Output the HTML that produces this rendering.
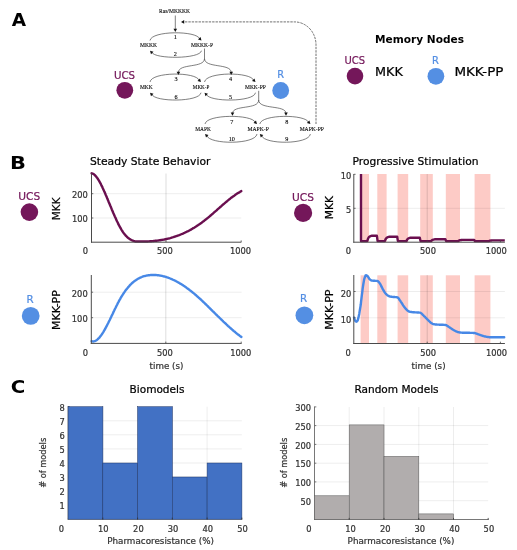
<!DOCTYPE html>
<html><head><meta charset="utf-8"><title>Figure</title>
<style>html,body{margin:0;padding:0;background:#fff;}svg{display:block;}</style>
</head><body>
<svg width="517" height="550" viewBox="0 0 517 550">
<text transform="translate(19,26.1) scale(1.0,1)" x="0" y="0" font-family="'DejaVu Sans','Liberation Sans',sans-serif" font-size="18.5" font-weight="bold" fill="#000" text-anchor="middle">A</text>
<text transform="translate(18,169.0) scale(1.13,1)" x="0" y="0" font-family="'DejaVu Sans','Liberation Sans',sans-serif" font-size="18.5" font-weight="bold" fill="#000" text-anchor="middle">B</text>
<text transform="translate(18.1,393.1) scale(1.07,1)" x="0" y="0" font-family="'DejaVu Sans','Liberation Sans',sans-serif" font-size="18.5" font-weight="bold" fill="#000" text-anchor="middle">C</text>
<text x="174.5" y="13.2" font-family="'Liberation Serif','DejaVu Serif',serif" font-size="6.2" font-weight="normal" fill="#000" text-anchor="middle" textLength="31.0" lengthAdjust="spacingAndGlyphs" stroke="#000" stroke-width="0.1">Ras/MKKKK</text>
<path d="M175.3,15.5 L175.3,30" fill="none" stroke="#3a3a3a" stroke-width="0.65"/>
<polygon points="175.3,32.0 173.5,28.8 177.1,28.8" fill="#111"/>
<path d="M150.0,40.5 C151.5,30.5 197.0,30.5 199.7,38.9" fill="none" stroke="#3a3a3a" stroke-width="0.65"/>
<polygon points="201.5,40.5 198.0,39.5 200.5,37.0" fill="#111"/>
<path d="M201.5,50.7 C200.0,59.2 154.5,59.2 151.8,52.3" fill="none" stroke="#3a3a3a" stroke-width="0.65"/>
<polygon points="150.0,50.7 153.5,51.7 151.0,54.2" fill="#111"/>
<text x="175.2" y="38.7" font-family="'Liberation Serif','DejaVu Serif',serif" font-size="6.2" font-weight="normal" fill="#000" text-anchor="middle" stroke="#000" stroke-width="0.1">1</text>
<text x="175.2" y="56.1" font-family="'Liberation Serif','DejaVu Serif',serif" font-size="6.2" font-weight="normal" fill="#000" text-anchor="middle" stroke="#000" stroke-width="0.1">2</text>
<text x="148.5" y="47.0" font-family="'Liberation Serif','DejaVu Serif',serif" font-size="6.2" font-weight="normal" fill="#000" text-anchor="middle" textLength="17.0" lengthAdjust="spacingAndGlyphs" stroke="#000" stroke-width="0.1">MKKK</text>
<text x="202.0" y="47.0" font-family="'Liberation Serif','DejaVu Serif',serif" font-size="6.2" font-weight="normal" fill="#000" text-anchor="middle" textLength="22.0" lengthAdjust="spacingAndGlyphs" stroke="#000" stroke-width="0.1">MKKK-P</text>
<path d="M204.5,48.5 L204.5,58.5 C204.5,68.5 178.4,63 178.4,72.5" fill="none" stroke="#3a3a3a" stroke-width="0.65"/>
<path d="M204.5,58.5 C204.5,68.5 231.2,63 231.2,72.5" fill="none" stroke="#3a3a3a" stroke-width="0.65"/>
<polygon points="178.4,74.9 176.6,71.7 180.2,71.7" fill="#111"/>
<polygon points="231.2,74.9 229.4,71.7 233.0,71.7" fill="#111"/>
<path d="M150.0,82.0 C151.5,71.7 196.5,71.7 199.2,80.4" fill="none" stroke="#3a3a3a" stroke-width="0.65"/>
<polygon points="201.0,82.0 197.5,81.0 200.0,78.5" fill="#111"/>
<path d="M201.0,92.7 C199.5,102.2 154.5,102.2 151.8,94.3" fill="none" stroke="#3a3a3a" stroke-width="0.65"/>
<polygon points="150.0,92.7 153.5,93.7 151.0,96.2" fill="#111"/>
<text x="176.0" y="81.0" font-family="'Liberation Serif','DejaVu Serif',serif" font-size="6.2" font-weight="normal" fill="#000" text-anchor="middle" stroke="#000" stroke-width="0.1">3</text>
<text x="176.0" y="98.6" font-family="'Liberation Serif','DejaVu Serif',serif" font-size="6.2" font-weight="normal" fill="#000" text-anchor="middle" stroke="#000" stroke-width="0.1">6</text>
<path d="M204.5,82.0 C206.0,71.7 251.0,71.7 253.7,80.4" fill="none" stroke="#3a3a3a" stroke-width="0.65"/>
<polygon points="255.5,82.0 252.0,81.0 254.5,78.5" fill="#111"/>
<path d="M255.5,92.7 C254.0,102.2 209.0,102.2 206.3,94.3" fill="none" stroke="#3a3a3a" stroke-width="0.65"/>
<polygon points="204.5,92.7 208.0,93.7 205.5,96.2" fill="#111"/>
<text x="230.5" y="81.0" font-family="'Liberation Serif','DejaVu Serif',serif" font-size="6.2" font-weight="normal" fill="#000" text-anchor="middle" stroke="#000" stroke-width="0.1">4</text>
<text x="230.5" y="98.6" font-family="'Liberation Serif','DejaVu Serif',serif" font-size="6.2" font-weight="normal" fill="#000" text-anchor="middle" stroke="#000" stroke-width="0.1">5</text>
<text x="146.4" y="89.0" font-family="'Liberation Serif','DejaVu Serif',serif" font-size="6.2" font-weight="normal" fill="#000" text-anchor="middle" textLength="12.8" lengthAdjust="spacingAndGlyphs" stroke="#000" stroke-width="0.1">MKK</text>
<text x="201.1" y="89.0" font-family="'Liberation Serif','DejaVu Serif',serif" font-size="6.2" font-weight="normal" fill="#000" text-anchor="middle" textLength="16.5" lengthAdjust="spacingAndGlyphs" stroke="#000" stroke-width="0.1">MKK-P</text>
<text x="255.4" y="89.0" font-family="'Liberation Serif','DejaVu Serif',serif" font-size="6.2" font-weight="normal" fill="#000" text-anchor="middle" textLength="20.8" lengthAdjust="spacingAndGlyphs" stroke="#000" stroke-width="0.1">MKK-PP</text>
<path d="M258.7,90.8 L258.7,100 C258.7,110 232.5,104.5 232.5,113.5" fill="none" stroke="#3a3a3a" stroke-width="0.65"/>
<path d="M258.7,100 C258.7,110 286,104.5 286,113.5" fill="none" stroke="#3a3a3a" stroke-width="0.65"/>
<polygon points="232.5,115.7 230.7,112.5 234.3,112.5" fill="#111"/>
<polygon points="286.0,115.7 284.2,112.5 287.8,112.5" fill="#111"/>
<path d="M205.0,124.0 C206.5,114.1 252.5,114.1 255.2,122.4" fill="none" stroke="#3a3a3a" stroke-width="0.65"/>
<polygon points="257.0,124.0 253.5,123.0 256.0,120.5" fill="#111"/>
<path d="M257.0,134.0 C255.5,144.7 209.5,144.7 206.8,135.6" fill="none" stroke="#3a3a3a" stroke-width="0.65"/>
<polygon points="205.0,134.0 208.5,135.0 206.0,137.5" fill="#111"/>
<text x="231.8" y="123.8" font-family="'Liberation Serif','DejaVu Serif',serif" font-size="6.2" font-weight="normal" fill="#000" text-anchor="middle" stroke="#000" stroke-width="0.1">7</text>
<text x="231.8" y="141.3" font-family="'Liberation Serif','DejaVu Serif',serif" font-size="6.2" font-weight="normal" fill="#000" text-anchor="middle" stroke="#000" stroke-width="0.1">10</text>
<path d="M259.8,124.0 C261.3,114.1 305.9,114.1 308.6,122.4" fill="none" stroke="#3a3a3a" stroke-width="0.65"/>
<polygon points="310.4,124.0 306.9,123.0 309.4,120.5" fill="#111"/>
<path d="M310.4,134.0 C308.9,144.7 264.3,144.7 261.6,135.6" fill="none" stroke="#3a3a3a" stroke-width="0.65"/>
<polygon points="259.8,134.0 263.3,135.0 260.8,137.5" fill="#111"/>
<text x="286.7" y="123.8" font-family="'Liberation Serif','DejaVu Serif',serif" font-size="6.2" font-weight="normal" fill="#000" text-anchor="middle" stroke="#000" stroke-width="0.1">8</text>
<text x="286.7" y="141.3" font-family="'Liberation Serif','DejaVu Serif',serif" font-size="6.2" font-weight="normal" fill="#000" text-anchor="middle" stroke="#000" stroke-width="0.1">9</text>
<text x="203.0" y="131.0" font-family="'Liberation Serif','DejaVu Serif',serif" font-size="6.2" font-weight="normal" fill="#000" text-anchor="middle" textLength="15.7" lengthAdjust="spacingAndGlyphs" stroke="#000" stroke-width="0.1">MAPK</text>
<text x="258.2" y="131.0" font-family="'Liberation Serif','DejaVu Serif',serif" font-size="6.2" font-weight="normal" fill="#000" text-anchor="middle" textLength="21.5" lengthAdjust="spacingAndGlyphs" stroke="#000" stroke-width="0.1">MAPK-P</text>
<text x="311.8" y="131.0" font-family="'Liberation Serif','DejaVu Serif',serif" font-size="6.2" font-weight="normal" fill="#000" text-anchor="middle" textLength="24.3" lengthAdjust="spacingAndGlyphs" stroke="#000" stroke-width="0.1">MAPK-PP</text>
<path d="M316,124 L316,44.9 A21.5,23 0 0 0 294.5,21.9 L183.5,21.9" fill="none" stroke="#404040" stroke-width="0.75" stroke-dasharray="2.4,1"/>
<polygon points="181.0,21.9 184.2,20.1 184.2,23.7" fill="#111"/>
<text x="124.5" y="78.8" font-family="'DejaVu Sans','Liberation Sans',sans-serif" font-size="10.4" font-weight="normal" fill="#74175a" text-anchor="middle" textLength="21.2" lengthAdjust="spacingAndGlyphs" stroke="#74175a" stroke-width="0.22">UCS</text>
<circle cx="124.8" cy="90.3" r="8.4" fill="#74175a"/>
<text x="280.6" y="78.3" font-family="'DejaVu Sans','Liberation Sans',sans-serif" font-size="9.8" font-weight="normal" fill="#548fe3" text-anchor="middle" stroke="#548fe3" stroke-width="0.22">R</text>
<circle cx="280.7" cy="90.5" r="8.4" fill="#548fe3"/>
<text x="419.5" y="42.7" font-family="'DejaVu Sans','Liberation Sans',sans-serif" font-size="10.6" font-weight="bold" fill="#000" text-anchor="middle" textLength="89.0" lengthAdjust="spacingAndGlyphs">Memory Nodes</text>
<text x="354.8" y="64.4" font-family="'DejaVu Sans','Liberation Sans',sans-serif" font-size="10.2" font-weight="normal" fill="#74175a" text-anchor="middle" textLength="20.6" lengthAdjust="spacingAndGlyphs" stroke="#74175a" stroke-width="0.22">UCS</text>
<circle cx="355.0" cy="76.1" r="8.3" fill="#74175a"/>
<text x="389.0" y="75.5" font-family="'DejaVu Sans','Liberation Sans',sans-serif" font-size="12.9" font-weight="normal" fill="#000" text-anchor="middle" textLength="27.8" lengthAdjust="spacingAndGlyphs" stroke="#000" stroke-width="0.22">MKK</text>
<text x="435.5" y="64.1" font-family="'DejaVu Sans','Liberation Sans',sans-serif" font-size="9.9" font-weight="normal" fill="#548fe3" text-anchor="middle" stroke="#548fe3" stroke-width="0.22">R</text>
<circle cx="435.9" cy="76.3" r="8.4" fill="#548fe3"/>
<text x="478.9" y="75.5" font-family="'DejaVu Sans','Liberation Sans',sans-serif" font-size="12.9" font-weight="normal" fill="#000" text-anchor="middle" textLength="49.0" lengthAdjust="spacingAndGlyphs" stroke="#000" stroke-width="0.22">MKK-PP</text>
<line x1="91.5" y1="193.7" x2="241.3" y2="193.7" stroke="#000" stroke-width="0.8"  stroke-opacity="0.09"/>
<line x1="91.5" y1="218.0" x2="241.3" y2="218.0" stroke="#000" stroke-width="0.8"  stroke-opacity="0.09"/>
<line x1="166.0" y1="173.5" x2="166.0" y2="242.2" stroke="#000" stroke-width="0.8"  stroke-opacity="0.17"/>
<path d="M91.6,173.3 L92.3,173.5 L93.1,173.8 L93.8,174.3 L94.6,174.9 L95.3,175.6 L96.1,176.5 L96.8,177.4 L97.6,178.5 L98.3,179.6 L99.1,180.9 L99.8,182.2 L100.6,183.6 L101.3,185.1 L102.1,186.6 L102.8,188.2 L103.6,189.9 L104.3,191.6 L105.1,193.3 L105.8,195.0 L106.6,196.8 L107.3,198.6 L108.1,200.4 L108.8,202.2 L109.6,204.0 L110.3,205.8 L111.1,207.6 L111.8,209.4 L112.6,211.2 L113.3,213.0 L114.1,214.7 L114.8,216.4 L115.6,218.1 L116.3,219.7 L117.0,221.3 L117.8,222.8 L118.5,224.4 L119.3,225.8 L120.0,227.2 L120.8,228.5 L121.5,229.8 L122.3,231.0 L123.0,232.1 L123.8,233.2 L124.5,234.1 L125.3,235.0 L126.0,235.9 L126.8,236.6 L127.5,237.3 L128.3,238.0 L129.0,238.5 L129.8,239.1 L130.5,239.5 L131.3,239.9 L132.0,240.3 L132.8,240.6 L133.5,240.9 L134.3,241.1 L135.0,241.3 L135.8,241.5 L136.5,241.5 L137.3,241.5 L138.0,241.5 L138.8,241.5 L139.5,241.5 L140.3,241.5 L141.0,241.5 L141.7,241.5 L142.5,241.5 L143.2,241.5 L144.0,241.5 L144.7,241.5 L145.5,241.5 L146.2,241.5 L147.0,241.5 L147.7,241.5 L148.5,241.4 L149.2,241.4 L150.0,241.3 L150.7,241.3 L151.5,241.2 L152.2,241.1 L153.0,241.1 L153.7,241.0 L154.5,240.9 L155.2,240.8 L156.0,240.8 L156.7,240.7 L157.5,240.6 L158.2,240.5 L159.0,240.4 L159.7,240.3 L160.5,240.2 L161.2,240.0 L162.0,239.9 L162.7,239.8 L163.5,239.6 L164.2,239.5 L165.0,239.3 L165.7,239.2 L166.4,239.0 L167.2,238.8 L167.9,238.6 L168.7,238.5 L169.4,238.3 L170.2,238.1 L170.9,237.9 L171.7,237.6 L172.4,237.4 L173.2,237.2 L173.9,237.0 L174.7,236.7 L175.4,236.5 L176.2,236.2 L176.9,236.0 L177.7,235.7 L178.4,235.4 L179.2,235.1 L179.9,234.8 L180.7,234.5 L181.4,234.2 L182.2,233.9 L182.9,233.6 L183.7,233.2 L184.4,232.9 L185.2,232.5 L185.9,232.2 L186.7,231.8 L187.4,231.4 L188.2,231.1 L188.9,230.7 L189.7,230.3 L190.4,229.9 L191.2,229.4 L191.9,229.0 L192.6,228.6 L193.4,228.1 L194.1,227.7 L194.9,227.2 L195.6,226.8 L196.4,226.3 L197.1,225.8 L197.9,225.3 L198.6,224.8 L199.4,224.3 L200.1,223.8 L200.9,223.2 L201.6,222.7 L202.4,222.1 L203.1,221.6 L203.9,221.0 L204.6,220.4 L205.4,219.8 L206.1,219.2 L206.9,218.6 L207.6,218.0 L208.4,217.4 L209.1,216.8 L209.9,216.1 L210.6,215.5 L211.4,214.8 L212.1,214.2 L212.9,213.6 L213.6,212.9 L214.4,212.2 L215.1,211.6 L215.9,210.9 L216.6,210.3 L217.3,209.6 L218.1,208.9 L218.8,208.3 L219.6,207.6 L220.3,207.0 L221.1,206.3 L221.8,205.6 L222.6,205.0 L223.3,204.3 L224.1,203.7 L224.8,203.1 L225.6,202.4 L226.3,201.8 L227.1,201.2 L227.8,200.5 L228.6,199.9 L229.3,199.3 L230.1,198.7 L230.8,198.1 L231.6,197.6 L232.3,197.0 L233.1,196.4 L233.8,195.9 L234.6,195.4 L235.3,194.8 L236.1,194.3 L236.8,193.8 L237.6,193.3 L238.3,192.9 L239.1,192.4 L239.8,192.0 L240.6,191.5 L241.3,191.1" fill="none" stroke="#6a0f4f" stroke-width="2.4" stroke-linejoin="round" stroke-linecap="round"/>
<line x1="91.5" y1="173.5" x2="91.5" y2="242.7" stroke="#4a4a4a" stroke-width="1" />
<line x1="91.0" y1="242.2" x2="241.3" y2="242.2" stroke="#4a4a4a" stroke-width="1" />
<line x1="91.5" y1="193.7" x2="93.3" y2="193.7" stroke="#4a4a4a" stroke-width="0.8" />
<text x="87.9" y="198.1" font-family="'DejaVu Sans','Liberation Sans',sans-serif" font-size="8.3" font-weight="normal" fill="#333" text-anchor="end" stroke="#333" stroke-width="0.22">200</text>
<line x1="91.5" y1="218.0" x2="93.3" y2="218.0" stroke="#4a4a4a" stroke-width="0.8" />
<text x="87.9" y="222.4" font-family="'DejaVu Sans','Liberation Sans',sans-serif" font-size="8.3" font-weight="normal" fill="#333" text-anchor="end" stroke="#333" stroke-width="0.22">100</text>
<text x="85.3" y="254.3" font-family="'DejaVu Sans','Liberation Sans',sans-serif" font-size="8.3" font-weight="normal" fill="#333" text-anchor="middle" stroke="#333" stroke-width="0.22">0</text>
<line x1="166.0" y1="242.2" x2="166.0" y2="240.4" stroke="#4a4a4a" stroke-width="0.8" />
<text x="164.8" y="254.3" font-family="'DejaVu Sans','Liberation Sans',sans-serif" font-size="8.3" font-weight="normal" fill="#333" text-anchor="middle" stroke="#333" stroke-width="0.22">500</text>
<line x1="241.2" y1="242.2" x2="241.2" y2="240.4" stroke="#4a4a4a" stroke-width="0.8" />
<text x="240.6" y="254.3" font-family="'DejaVu Sans','Liberation Sans',sans-serif" font-size="8.3" font-weight="normal" fill="#333" text-anchor="middle" stroke="#333" stroke-width="0.22">1000</text>
<text x="150.2" y="165.0" font-family="'DejaVu Sans','Liberation Sans',sans-serif" font-size="10.5" font-weight="normal" fill="#000" text-anchor="middle" textLength="120.5" lengthAdjust="spacingAndGlyphs" stroke="#000" stroke-width="0.22">Steady State Behavior</text>
<text transform="translate(56.6,208.8) rotate(-90)" x="0" y="3.8" font-family="'DejaVu Sans','Liberation Sans',sans-serif" font-size="10.3" font-weight="normal" fill="#000" text-anchor="middle" textLength="22.8" lengthAdjust="spacingAndGlyphs" stroke="#000" stroke-width="0.22">MKK</text>
<text x="29.2" y="200.2" font-family="'DejaVu Sans','Liberation Sans',sans-serif" font-size="10.8" font-weight="normal" fill="#74175a" text-anchor="middle" textLength="22.0" lengthAdjust="spacingAndGlyphs" stroke="#74175a" stroke-width="0.22">UCS</text>
<circle cx="29.4" cy="212.1" r="8.8" fill="#74175a"/>
<line x1="91.3" y1="292.2" x2="241.6" y2="292.2" stroke="#000" stroke-width="0.8"  stroke-opacity="0.09"/>
<line x1="91.3" y1="317.7" x2="241.6" y2="317.7" stroke="#000" stroke-width="0.8"  stroke-opacity="0.09"/>
<line x1="165.8" y1="275.0" x2="165.8" y2="343.4" stroke="#000" stroke-width="0.8"  stroke-opacity="0.17"/>
<path d="M91.6,341.2 L92.3,341.4 L93.1,341.5 L93.8,341.4 L94.6,341.2 L95.3,340.9 L96.1,340.5 L96.8,340.0 L97.6,339.4 L98.3,338.7 L99.1,337.9 L99.8,337.1 L100.6,336.1 L101.3,335.1 L102.1,334.0 L102.8,332.8 L103.6,331.6 L104.3,330.3 L105.1,329.0 L105.8,327.6 L106.6,326.2 L107.3,324.8 L108.1,323.3 L108.8,321.8 L109.6,320.2 L110.3,318.7 L111.1,317.1 L111.8,315.6 L112.6,314.0 L113.3,312.4 L114.1,310.8 L114.8,309.3 L115.6,307.7 L116.3,306.2 L117.1,304.7 L117.8,303.2 L118.6,301.8 L119.3,300.4 L120.1,299.1 L120.8,297.7 L121.6,296.5 L122.3,295.3 L123.1,294.1 L123.8,293.0 L124.6,291.9 L125.3,290.8 L126.1,289.8 L126.8,288.9 L127.6,288.0 L128.3,287.1 L129.1,286.2 L129.8,285.4 L130.5,284.6 L131.3,283.9 L132.0,283.2 L132.8,282.5 L133.5,281.9 L134.3,281.3 L135.0,280.7 L135.8,280.2 L136.5,279.7 L137.3,279.2 L138.0,278.8 L138.8,278.4 L139.5,278.0 L140.3,277.6 L141.0,277.3 L141.8,277.0 L142.5,276.7 L143.3,276.4 L144.0,276.2 L144.8,276.0 L145.5,275.8 L146.3,275.6 L147.0,275.5 L147.8,275.4 L148.5,275.3 L149.3,275.2 L150.0,275.1 L150.8,275.0 L151.5,275.0 L152.3,275.0 L153.0,274.9 L153.8,275.0 L154.5,275.0 L155.3,275.0 L156.0,275.0 L156.8,275.1 L157.5,275.2 L158.3,275.3 L159.0,275.4 L159.8,275.5 L160.5,275.6 L161.3,275.8 L162.0,275.9 L162.8,276.1 L163.5,276.3 L164.3,276.5 L165.0,276.7 L165.8,276.9 L166.5,277.1 L167.2,277.4 L168.0,277.6 L168.7,277.9 L169.5,278.2 L170.2,278.5 L171.0,278.8 L171.7,279.1 L172.5,279.5 L173.2,279.8 L174.0,280.2 L174.7,280.5 L175.5,280.9 L176.2,281.3 L177.0,281.7 L177.7,282.1 L178.5,282.5 L179.2,283.0 L180.0,283.4 L180.7,283.9 L181.5,284.3 L182.2,284.8 L183.0,285.3 L183.7,285.8 L184.5,286.3 L185.2,286.8 L186.0,287.3 L186.7,287.9 L187.5,288.4 L188.2,289.0 L189.0,289.5 L189.7,290.1 L190.5,290.7 L191.2,291.3 L192.0,291.9 L192.7,292.5 L193.5,293.1 L194.2,293.7 L195.0,294.4 L195.7,295.0 L196.5,295.7 L197.2,296.3 L198.0,297.0 L198.7,297.7 L199.5,298.3 L200.2,299.0 L201.0,299.7 L201.7,300.4 L202.5,301.1 L203.2,301.8 L204.0,302.5 L204.7,303.2 L205.4,304.0 L206.2,304.7 L206.9,305.4 L207.7,306.1 L208.4,306.9 L209.2,307.6 L209.9,308.3 L210.7,309.1 L211.4,309.8 L212.2,310.6 L212.9,311.3 L213.7,312.0 L214.4,312.8 L215.2,313.5 L215.9,314.3 L216.7,315.0 L217.4,315.8 L218.2,316.5 L218.9,317.2 L219.7,318.0 L220.4,318.7 L221.2,319.4 L221.9,320.2 L222.7,320.9 L223.4,321.6 L224.2,322.3 L224.9,323.0 L225.7,323.7 L226.4,324.4 L227.2,325.1 L227.9,325.8 L228.7,326.5 L229.4,327.2 L230.2,327.9 L230.9,328.5 L231.7,329.2 L232.4,329.8 L233.2,330.5 L233.9,331.1 L234.7,331.7 L235.4,332.4 L236.2,333.0 L236.9,333.6 L237.7,334.2 L238.4,334.7 L239.2,335.3 L239.9,335.9 L240.7,336.4 L241.4,337.0" fill="none" stroke="#4788e6" stroke-width="2.4" stroke-linejoin="round" stroke-linecap="round"/>
<line x1="91.3" y1="275.0" x2="91.3" y2="343.9" stroke="#4a4a4a" stroke-width="1" />
<line x1="90.8" y1="343.4" x2="241.6" y2="343.4" stroke="#4a4a4a" stroke-width="1" />
<line x1="91.3" y1="292.2" x2="93.1" y2="292.2" stroke="#4a4a4a" stroke-width="0.8" />
<text x="87.7" y="296.6" font-family="'DejaVu Sans','Liberation Sans',sans-serif" font-size="8.3" font-weight="normal" fill="#333" text-anchor="end" stroke="#333" stroke-width="0.22">200</text>
<line x1="91.3" y1="317.7" x2="93.1" y2="317.7" stroke="#4a4a4a" stroke-width="0.8" />
<text x="87.7" y="322.1" font-family="'DejaVu Sans','Liberation Sans',sans-serif" font-size="8.3" font-weight="normal" fill="#333" text-anchor="end" stroke="#333" stroke-width="0.22">100</text>
<text x="85.3" y="356.2" font-family="'DejaVu Sans','Liberation Sans',sans-serif" font-size="8.3" font-weight="normal" fill="#333" text-anchor="middle" stroke="#333" stroke-width="0.22">0</text>
<line x1="165.8" y1="343.4" x2="165.8" y2="341.6" stroke="#4a4a4a" stroke-width="0.8" />
<text x="164.8" y="356.2" font-family="'DejaVu Sans','Liberation Sans',sans-serif" font-size="8.3" font-weight="normal" fill="#333" text-anchor="middle" stroke="#333" stroke-width="0.22">500</text>
<line x1="241.2" y1="343.4" x2="241.2" y2="341.6" stroke="#4a4a4a" stroke-width="0.8" />
<text x="240.8" y="356.2" font-family="'DejaVu Sans','Liberation Sans',sans-serif" font-size="8.3" font-weight="normal" fill="#333" text-anchor="middle" stroke="#333" stroke-width="0.22">1000</text>
<text transform="translate(56.3,310.1) rotate(-90)" x="0" y="3.8" font-family="'DejaVu Sans','Liberation Sans',sans-serif" font-size="10.3" font-weight="normal" fill="#000" text-anchor="middle" textLength="39.8" lengthAdjust="spacingAndGlyphs" stroke="#000" stroke-width="0.22">MKK-PP</text>
<text x="30.2" y="302.8" font-family="'DejaVu Sans','Liberation Sans',sans-serif" font-size="10.3" font-weight="normal" fill="#548fe3" text-anchor="middle" stroke="#548fe3" stroke-width="0.22">R</text>
<circle cx="30.7" cy="315.9" r="8.9" fill="#548fe3"/>
<text x="166.5" y="369.0" font-family="'DejaVu Sans','Liberation Sans',sans-serif" font-size="8.8" font-weight="normal" fill="#333" text-anchor="middle" textLength="33.8" lengthAdjust="spacingAndGlyphs" stroke="#333" stroke-width="0.22">time (s)</text>
<rect x="360.6" y="174.0" width="8.4" height="68.2" fill="#fdcbc6"/>
<rect x="377.3" y="174.0" width="9.3" height="68.2" fill="#fdcbc6"/>
<rect x="397.6" y="174.0" width="10.6" height="68.2" fill="#fdcbc6"/>
<rect x="420.2" y="174.0" width="12.6" height="68.2" fill="#fdcbc6"/>
<rect x="445.8" y="174.0" width="14.2" height="68.2" fill="#fdcbc6"/>
<rect x="474.6" y="174.0" width="15.8" height="68.2" fill="#fdcbc6"/>
<line x1="353.8" y1="208.3" x2="504.9" y2="208.3" stroke="#000" stroke-width="0.8"  stroke-opacity="0.09"/>
<line x1="427.2" y1="174.0" x2="427.2" y2="242.2" stroke="#000" stroke-width="0.8"  stroke-opacity="0.17"/>
<path d="M361.0,174.0 L361.0,241.1 L367.2,241.1 L367.8,239.3 L368.3,238.1 L368.9,237.2 L369.5,236.7 L370.1,236.3 L370.6,236.1 L371.2,235.9 L371.8,235.8 L376.9,235.8 L377.6,241.1 L384.8,241.1 L385.4,239.6 L385.9,238.6 L386.5,238.0 L387.1,237.5 L387.7,237.2 L388.2,237.0 L388.8,236.9 L389.4,236.8 L397.2,236.8 L397.9,241.1 L406.4,241.1 L407.0,239.9 L407.5,239.1 L408.1,238.6 L408.7,238.3 L409.3,238.0 L409.8,237.9 L410.4,237.8 L411.0,237.7 L419.8,237.7 L420.5,241.1 L431.0,241.1 L431.6,240.5 L432.1,240.1 L432.7,239.8 L433.3,239.6 L433.9,239.5 L434.4,239.4 L435.0,239.3 L435.6,239.3 L445.4,239.3 L446.1,241.1 L458.2,241.1 L458.8,240.7 L459.3,240.4 L459.9,240.2 L460.5,240.1 L461.1,240.0 L461.6,240.0 L462.2,239.9 L462.8,239.9 L474.2,239.9 L474.9,241.1 L488.6,241.1 L489.2,240.9 L489.7,240.7 L490.3,240.6 L490.9,240.5 L491.5,240.5 L492.0,240.4 L492.6,240.4 L493.2,240.4 L504.8,240.4" fill="none" stroke="#6a0f4f" stroke-width="2.4" stroke-linejoin="round" stroke-linecap="butt"/>
<line x1="353.8" y1="174.0" x2="353.8" y2="242.7" stroke="#4a4a4a" stroke-width="1" />
<line x1="353.3" y1="242.2" x2="504.9" y2="242.2" stroke="#4a4a4a" stroke-width="1" />
<line x1="353.8" y1="174.3" x2="355.6" y2="174.3" stroke="#4a4a4a" stroke-width="0.8" />
<text x="351.4" y="179.4" font-family="'DejaVu Sans','Liberation Sans',sans-serif" font-size="8.3" font-weight="normal" fill="#333" text-anchor="end" stroke="#333" stroke-width="0.22">10</text>
<line x1="353.8" y1="208.3" x2="355.6" y2="208.3" stroke="#4a4a4a" stroke-width="0.8" />
<text x="351.4" y="213.4" font-family="'DejaVu Sans','Liberation Sans',sans-serif" font-size="8.3" font-weight="normal" fill="#333" text-anchor="end" stroke="#333" stroke-width="0.22">5</text>
<text x="348.4" y="254.3" font-family="'DejaVu Sans','Liberation Sans',sans-serif" font-size="8.3" font-weight="normal" fill="#333" text-anchor="middle" stroke="#333" stroke-width="0.22">0</text>
<line x1="427.2" y1="242.2" x2="427.2" y2="240.4" stroke="#4a4a4a" stroke-width="0.8" />
<text x="428.0" y="254.3" font-family="'DejaVu Sans','Liberation Sans',sans-serif" font-size="8.3" font-weight="normal" fill="#333" text-anchor="middle" stroke="#333" stroke-width="0.22">500</text>
<line x1="500.4" y1="242.2" x2="500.4" y2="240.4" stroke="#4a4a4a" stroke-width="0.8" />
<text x="496.3" y="254.3" font-family="'DejaVu Sans','Liberation Sans',sans-serif" font-size="8.3" font-weight="normal" fill="#333" text-anchor="middle" stroke="#333" stroke-width="0.22">1000</text>
<text x="415.6" y="165.0" font-family="'DejaVu Sans','Liberation Sans',sans-serif" font-size="10.5" font-weight="normal" fill="#000" text-anchor="middle" textLength="126.0" lengthAdjust="spacingAndGlyphs" stroke="#000" stroke-width="0.22">Progressive Stimulation</text>
<text transform="translate(329.0,207.6) rotate(-90)" x="0" y="3.8" font-family="'DejaVu Sans','Liberation Sans',sans-serif" font-size="10.3" font-weight="normal" fill="#000" text-anchor="middle" textLength="23.3" lengthAdjust="spacingAndGlyphs" stroke="#000" stroke-width="0.22">MKK</text>
<text x="303.0" y="200.8" font-family="'DejaVu Sans','Liberation Sans',sans-serif" font-size="10.8" font-weight="normal" fill="#74175a" text-anchor="middle" textLength="22.0" lengthAdjust="spacingAndGlyphs" stroke="#74175a" stroke-width="0.22">UCS</text>
<circle cx="303.1" cy="212.9" r="9.1" fill="#74175a"/>
<rect x="360.6" y="275.3" width="8.4" height="68.2" fill="#fdcbc6"/>
<rect x="377.3" y="275.3" width="9.3" height="68.2" fill="#fdcbc6"/>
<rect x="397.6" y="275.3" width="10.6" height="68.2" fill="#fdcbc6"/>
<rect x="420.2" y="275.3" width="12.6" height="68.2" fill="#fdcbc6"/>
<rect x="445.8" y="275.3" width="14.2" height="68.2" fill="#fdcbc6"/>
<rect x="474.6" y="275.3" width="15.8" height="68.2" fill="#fdcbc6"/>
<line x1="353.8" y1="291.5" x2="504.9" y2="291.5" stroke="#000" stroke-width="0.8"  stroke-opacity="0.09"/>
<line x1="353.8" y1="317.8" x2="504.9" y2="317.8" stroke="#000" stroke-width="0.8"  stroke-opacity="0.09"/>
<line x1="427.2" y1="275.0" x2="427.2" y2="343.5" stroke="#000" stroke-width="0.8"  stroke-opacity="0.17"/>
<path d="M354.0,317.6 L354.4,318.7 L354.8,319.7 L355.1,320.4 L355.5,321.1 L355.9,321.5 L356.3,321.7 L356.6,321.6 L357.0,321.2 L357.4,320.8 L357.8,320.2 L358.1,319.0 L358.5,317.4 L358.9,315.6 L359.3,313.7 L359.6,311.6 L360.0,309.3 L360.4,306.9 L360.8,304.3 L361.1,301.4 L361.5,298.2 L361.9,294.9 L362.3,291.8 L362.6,289.0 L363.0,286.3 L363.4,283.7 L363.8,281.5 L364.1,279.7 L364.5,278.4 L364.9,277.2 L365.3,276.2 L365.6,275.4 L366.0,275.2 L366.4,275.3 L366.8,275.5 L367.1,275.8 L367.5,276.1 L367.9,276.5 L368.3,277.1 L368.6,277.7 L369.0,278.4 L369.4,278.9 L369.8,279.3 L370.1,279.6 L370.5,279.9 L370.9,280.2 L371.3,280.4 L371.6,280.5 L372.0,280.6 L372.4,280.6 L372.8,280.7 L373.2,280.7 L373.5,280.7 L373.9,280.8 L374.3,280.8 L374.7,280.8 L375.0,280.8 L375.4,280.9 L375.8,280.9 L376.2,280.9 L376.5,280.9 L376.9,280.9 L377.3,281.0 L377.7,281.1 L378.0,281.3 L378.4,281.7 L378.8,282.1 L379.2,282.6 L379.5,283.0 L379.9,283.6 L380.3,284.2 L380.7,284.9 L381.0,285.6 L381.4,286.4 L381.8,287.2 L382.2,287.9 L382.5,288.7 L382.9,289.4 L383.3,290.0 L383.7,290.6 L384.0,291.2 L384.4,291.9 L384.8,292.4 L385.2,293.0 L385.5,293.5 L385.9,293.9 L386.3,294.3 L386.7,294.6 L387.0,294.9 L387.4,295.2 L387.8,295.5 L388.2,295.7 L388.5,295.9 L388.9,296.1 L389.3,296.3 L389.7,296.4 L390.0,296.5 L390.4,296.6 L390.8,296.7 L391.2,296.7 L391.6,296.8 L391.9,296.8 L392.3,296.9 L392.7,296.9 L393.1,297.0 L393.4,297.0 L393.8,297.0 L394.2,297.0 L394.6,297.0 L394.9,297.1 L395.3,297.1 L395.7,297.1 L396.1,297.1 L396.4,297.2 L396.8,297.2 L397.2,297.3 L397.6,297.4 L397.9,297.7 L398.3,298.1 L398.7,298.6 L399.1,299.1 L399.4,299.7 L399.8,300.2 L400.2,300.7 L400.6,301.3 L400.9,301.8 L401.3,302.4 L401.7,303.0 L402.1,303.6 L402.4,304.2 L402.8,304.8 L403.2,305.4 L403.6,305.9 L403.9,306.4 L404.3,306.9 L404.7,307.4 L405.1,307.9 L405.4,308.4 L405.8,308.8 L406.2,309.2 L406.6,309.7 L406.9,310.0 L407.3,310.4 L407.7,310.7 L408.1,310.9 L408.4,311.2 L408.8,311.4 L409.2,311.6 L409.6,311.7 L409.9,311.8 L410.3,311.9 L410.7,311.9 L411.1,312.0 L411.5,312.0 L411.8,312.1 L412.2,312.1 L412.6,312.2 L413.0,312.2 L413.3,312.2 L413.7,312.3 L414.1,312.3 L414.5,312.3 L414.8,312.4 L415.2,312.4 L415.6,312.4 L416.0,312.4 L416.3,312.4 L416.7,312.4 L417.1,312.5 L417.5,312.5 L417.8,312.5 L418.2,312.5 L418.6,312.5 L419.0,312.6 L419.3,312.6 L419.7,312.6 L420.1,312.7 L420.5,312.8 L420.8,313.0 L421.2,313.2 L421.6,313.6 L422.0,314.0 L422.3,314.3 L422.7,314.7 L423.1,315.1 L423.5,315.4 L423.8,315.8 L424.2,316.2 L424.6,316.5 L425.0,316.9 L425.3,317.3 L425.7,317.7 L426.1,318.1 L426.5,318.5 L426.8,318.9 L427.2,319.2 L427.6,319.6 L428.0,320.0 L428.3,320.3 L428.7,320.7 L429.1,321.1 L429.5,321.5 L429.9,321.9 L430.2,322.2 L430.6,322.6 L431.0,322.9 L431.4,323.1 L431.7,323.3 L432.1,323.5 L432.5,323.8 L432.9,323.9 L433.2,324.1 L433.6,324.2 L434.0,324.3 L434.4,324.3 L434.7,324.4 L435.1,324.4 L435.5,324.5 L435.9,324.5 L436.2,324.5 L436.6,324.5 L437.0,324.6 L437.4,324.6 L437.7,324.6 L438.1,324.6 L438.5,324.6 L438.9,324.6 L439.2,324.7 L439.6,324.7 L440.0,324.7 L440.4,324.7 L440.7,324.7 L441.1,324.8 L441.5,324.8 L441.9,324.8 L442.2,324.8 L442.6,324.8 L443.0,324.8 L443.4,324.8 L443.7,324.9 L444.1,324.9 L444.5,324.9 L444.9,324.9 L445.2,325.0 L445.6,325.0 L446.0,325.1 L446.4,325.2 L446.7,325.4 L447.1,325.7 L447.5,325.9 L447.9,326.2 L448.3,326.5 L448.6,326.8 L449.0,327.0 L449.4,327.2 L449.8,327.5 L450.1,327.7 L450.5,328.0 L450.9,328.3 L451.3,328.5 L451.6,328.8 L452.0,329.1 L452.4,329.3 L452.8,329.6 L453.1,329.8 L453.5,330.0 L453.9,330.2 L454.3,330.4 L454.6,330.6 L455.0,330.8 L455.4,331.0 L455.8,331.2 L456.1,331.4 L456.5,331.5 L456.9,331.7 L457.3,331.8 L457.6,332.0 L458.0,332.1 L458.4,332.2 L458.8,332.3 L459.1,332.3 L459.5,332.4 L459.9,332.5 L460.3,332.5 L460.6,332.6 L461.0,332.6 L461.4,332.6 L461.8,332.6 L462.1,332.7 L462.5,332.7 L462.9,332.7 L463.3,332.7 L463.6,332.7 L464.0,332.7 L464.4,332.7 L464.8,332.7 L465.1,332.7 L465.5,332.7 L465.9,332.7 L466.3,332.8 L466.6,332.8 L467.0,332.8 L467.4,332.8 L467.8,332.8 L468.2,332.8 L468.5,332.8 L468.9,332.8 L469.3,332.8 L469.7,332.8 L470.0,332.9 L470.4,332.9 L470.8,332.9 L471.2,332.9 L471.5,332.9 L471.9,332.9 L472.3,332.9 L472.7,332.9 L473.0,332.9 L473.4,333.0 L473.8,333.0 L474.2,333.0 L474.5,333.0 L474.9,333.1 L475.3,333.2 L475.7,333.3 L476.0,333.5 L476.4,333.6 L476.8,333.7 L477.2,333.9 L477.5,334.0 L477.9,334.2 L478.3,334.3 L478.7,334.4 L479.0,334.6 L479.4,334.7 L479.8,334.8 L480.2,335.0 L480.5,335.1 L480.9,335.2 L481.3,335.4 L481.7,335.5 L482.0,335.6 L482.4,335.7 L482.8,335.9 L483.2,336.0 L483.5,336.1 L483.9,336.2 L484.3,336.3 L484.7,336.4 L485.0,336.5 L485.4,336.5 L485.8,336.6 L486.2,336.7 L486.6,336.8 L486.9,336.9 L487.3,336.9 L487.7,337.0 L488.1,337.0 L488.4,337.1 L488.8,337.1 L489.2,337.2 L489.6,337.2 L489.9,337.3 L490.3,337.3 L490.7,337.3 L491.1,337.3 L491.4,337.3 L491.8,337.3 L492.2,337.3 L492.6,337.3 L492.9,337.3 L493.3,337.3 L493.7,337.3 L494.1,337.3 L494.4,337.3 L494.8,337.3 L495.2,337.3 L495.6,337.3 L495.9,337.3 L496.3,337.3 L496.7,337.3 L497.1,337.3 L497.4,337.3 L497.8,337.3 L498.2,337.3 L498.6,337.3 L498.9,337.3 L499.3,337.3 L499.7,337.3 L500.1,337.3 L500.4,337.3 L500.8,337.3 L501.2,337.3 L501.6,337.3 L501.9,337.3 L502.3,337.3 L502.7,337.3 L503.1,337.3 L503.4,337.3 L503.8,337.3 L504.2,337.3" fill="none" stroke="#4788e6" stroke-width="2.4" stroke-linejoin="round" stroke-linecap="round"/>
<line x1="353.8" y1="275.0" x2="353.8" y2="344.0" stroke="#4a4a4a" stroke-width="1" />
<line x1="353.3" y1="343.5" x2="504.9" y2="343.5" stroke="#4a4a4a" stroke-width="1" />
<line x1="353.8" y1="291.5" x2="355.6" y2="291.5" stroke="#4a4a4a" stroke-width="0.8" />
<text x="351.4" y="296.6" font-family="'DejaVu Sans','Liberation Sans',sans-serif" font-size="8.3" font-weight="normal" fill="#333" text-anchor="end" stroke="#333" stroke-width="0.22">20</text>
<line x1="353.8" y1="317.8" x2="355.6" y2="317.8" stroke="#4a4a4a" stroke-width="0.8" />
<text x="351.4" y="322.9" font-family="'DejaVu Sans','Liberation Sans',sans-serif" font-size="8.3" font-weight="normal" fill="#333" text-anchor="end" stroke="#333" stroke-width="0.22">10</text>
<text x="348.2" y="356.1" font-family="'DejaVu Sans','Liberation Sans',sans-serif" font-size="8.3" font-weight="normal" fill="#333" text-anchor="middle" stroke="#333" stroke-width="0.22">0</text>
<line x1="427.2" y1="343.5" x2="427.2" y2="341.7" stroke="#4a4a4a" stroke-width="0.8" />
<text x="428.2" y="356.1" font-family="'DejaVu Sans','Liberation Sans',sans-serif" font-size="8.3" font-weight="normal" fill="#333" text-anchor="middle" stroke="#333" stroke-width="0.22">500</text>
<line x1="500.4" y1="343.5" x2="500.4" y2="341.7" stroke="#4a4a4a" stroke-width="0.8" />
<text x="496.6" y="356.1" font-family="'DejaVu Sans','Liberation Sans',sans-serif" font-size="8.3" font-weight="normal" fill="#333" text-anchor="middle" stroke="#333" stroke-width="0.22">1000</text>
<text transform="translate(329.0,309.6) rotate(-90)" x="0" y="3.8" font-family="'DejaVu Sans','Liberation Sans',sans-serif" font-size="10.3" font-weight="normal" fill="#000" text-anchor="middle" textLength="40.2" lengthAdjust="spacingAndGlyphs" stroke="#000" stroke-width="0.22">MKK-PP</text>
<text x="303.7" y="302.2" font-family="'DejaVu Sans','Liberation Sans',sans-serif" font-size="10.3" font-weight="normal" fill="#548fe3" text-anchor="middle" stroke="#548fe3" stroke-width="0.22">R</text>
<circle cx="304.4" cy="315.3" r="8.9" fill="#548fe3"/>
<text x="428.6" y="369.4" font-family="'DejaVu Sans','Liberation Sans',sans-serif" font-size="8.8" font-weight="normal" fill="#333" text-anchor="middle" textLength="34.0" lengthAdjust="spacingAndGlyphs" stroke="#333" stroke-width="0.22">time (s)</text>
<line x1="68.1" y1="505.1" x2="241.8" y2="505.1" stroke="#000" stroke-width="0.8"  stroke-opacity="0.09"/>
<line x1="68.1" y1="491.1" x2="241.8" y2="491.1" stroke="#000" stroke-width="0.8"  stroke-opacity="0.09"/>
<line x1="68.1" y1="477.0" x2="241.8" y2="477.0" stroke="#000" stroke-width="0.8"  stroke-opacity="0.09"/>
<line x1="68.1" y1="463.0" x2="241.8" y2="463.0" stroke="#000" stroke-width="0.8"  stroke-opacity="0.09"/>
<line x1="68.1" y1="448.9" x2="241.8" y2="448.9" stroke="#000" stroke-width="0.8"  stroke-opacity="0.09"/>
<line x1="68.1" y1="434.8" x2="241.8" y2="434.8" stroke="#000" stroke-width="0.8"  stroke-opacity="0.09"/>
<line x1="68.1" y1="420.8" x2="241.8" y2="420.8" stroke="#000" stroke-width="0.8"  stroke-opacity="0.09"/>
<line x1="102.8" y1="406.7" x2="102.8" y2="519.2" stroke="#000" stroke-width="0.8"  stroke-opacity="0.09"/>
<line x1="137.6" y1="406.7" x2="137.6" y2="519.2" stroke="#000" stroke-width="0.8"  stroke-opacity="0.09"/>
<line x1="172.3" y1="406.7" x2="172.3" y2="519.2" stroke="#000" stroke-width="0.8"  stroke-opacity="0.09"/>
<line x1="207.1" y1="406.7" x2="207.1" y2="519.2" stroke="#000" stroke-width="0.8"  stroke-opacity="0.09"/>
<line x1="68.1" y1="406.2" x2="68.1" y2="519.6" stroke="#555" stroke-width="0.8" />
<line x1="67.7" y1="519.2" x2="242.2" y2="519.2" stroke="#555" stroke-width="0.8" />
<line x1="68.1" y1="505.1" x2="69.9" y2="505.1" stroke="#555" stroke-width="0.8" />
<text x="64.7" y="509.4" font-family="'DejaVu Sans','Liberation Sans',sans-serif" font-size="8.3" font-weight="normal" fill="#333" text-anchor="end" stroke="#333" stroke-width="0.22">1</text>
<line x1="68.1" y1="491.1" x2="69.9" y2="491.1" stroke="#555" stroke-width="0.8" />
<text x="64.7" y="495.3" font-family="'DejaVu Sans','Liberation Sans',sans-serif" font-size="8.3" font-weight="normal" fill="#333" text-anchor="end" stroke="#333" stroke-width="0.22">2</text>
<line x1="68.1" y1="477.0" x2="69.9" y2="477.0" stroke="#555" stroke-width="0.8" />
<text x="64.7" y="481.2" font-family="'DejaVu Sans','Liberation Sans',sans-serif" font-size="8.3" font-weight="normal" fill="#333" text-anchor="end" stroke="#333" stroke-width="0.22">3</text>
<line x1="68.1" y1="463.0" x2="69.9" y2="463.0" stroke="#555" stroke-width="0.8" />
<text x="64.7" y="467.2" font-family="'DejaVu Sans','Liberation Sans',sans-serif" font-size="8.3" font-weight="normal" fill="#333" text-anchor="end" stroke="#333" stroke-width="0.22">4</text>
<line x1="68.1" y1="448.9" x2="69.9" y2="448.9" stroke="#555" stroke-width="0.8" />
<text x="64.7" y="453.1" font-family="'DejaVu Sans','Liberation Sans',sans-serif" font-size="8.3" font-weight="normal" fill="#333" text-anchor="end" stroke="#333" stroke-width="0.22">5</text>
<line x1="68.1" y1="434.8" x2="69.9" y2="434.8" stroke="#555" stroke-width="0.8" />
<text x="64.7" y="439.1" font-family="'DejaVu Sans','Liberation Sans',sans-serif" font-size="8.3" font-weight="normal" fill="#333" text-anchor="end" stroke="#333" stroke-width="0.22">6</text>
<line x1="68.1" y1="420.8" x2="69.9" y2="420.8" stroke="#555" stroke-width="0.8" />
<text x="64.7" y="425.0" font-family="'DejaVu Sans','Liberation Sans',sans-serif" font-size="8.3" font-weight="normal" fill="#333" text-anchor="end" stroke="#333" stroke-width="0.22">7</text>
<line x1="68.1" y1="406.7" x2="69.9" y2="406.7" stroke="#555" stroke-width="0.8" />
<text x="64.7" y="410.9" font-family="'DejaVu Sans','Liberation Sans',sans-serif" font-size="8.3" font-weight="normal" fill="#333" text-anchor="end" stroke="#333" stroke-width="0.22">8</text>
<rect x="68.1" y="406.7" width="34.8" height="112.5" fill="#4271c4" stroke="#1f3566" stroke-width="0.5"/>
<rect x="102.8" y="463.0" width="34.8" height="56.2" fill="#4271c4" stroke="#1f3566" stroke-width="0.5"/>
<rect x="137.6" y="406.7" width="34.8" height="112.5" fill="#4271c4" stroke="#1f3566" stroke-width="0.5"/>
<rect x="172.3" y="477.0" width="34.8" height="42.2" fill="#4271c4" stroke="#1f3566" stroke-width="0.5"/>
<rect x="207.1" y="463.0" width="34.8" height="56.2" fill="#4271c4" stroke="#1f3566" stroke-width="0.5"/>
<line x1="102.8" y1="519.5" x2="102.8" y2="517.6" stroke="#333" stroke-width="0.8" />
<line x1="137.6" y1="519.5" x2="137.6" y2="517.6" stroke="#333" stroke-width="0.8" />
<line x1="172.3" y1="519.5" x2="172.3" y2="517.6" stroke="#333" stroke-width="0.8" />
<line x1="207.1" y1="519.5" x2="207.1" y2="517.6" stroke="#333" stroke-width="0.8" />
<line x1="241.8" y1="519.5" x2="241.8" y2="517.6" stroke="#333" stroke-width="0.8" />
<text x="61.4" y="531.6" font-family="'DejaVu Sans','Liberation Sans',sans-serif" font-size="8.3" font-weight="normal" fill="#333" text-anchor="middle" stroke="#333" stroke-width="0.22">0</text>
<text x="103.3" y="531.6" font-family="'DejaVu Sans','Liberation Sans',sans-serif" font-size="8.3" font-weight="normal" fill="#333" text-anchor="middle" stroke="#333" stroke-width="0.22">10</text>
<text x="138.4" y="531.6" font-family="'DejaVu Sans','Liberation Sans',sans-serif" font-size="8.3" font-weight="normal" fill="#333" text-anchor="middle" stroke="#333" stroke-width="0.22">20</text>
<text x="173.0" y="531.6" font-family="'DejaVu Sans','Liberation Sans',sans-serif" font-size="8.3" font-weight="normal" fill="#333" text-anchor="middle" stroke="#333" stroke-width="0.22">30</text>
<text x="207.8" y="531.6" font-family="'DejaVu Sans','Liberation Sans',sans-serif" font-size="8.3" font-weight="normal" fill="#333" text-anchor="middle" stroke="#333" stroke-width="0.22">40</text>
<text x="242.6" y="531.6" font-family="'DejaVu Sans','Liberation Sans',sans-serif" font-size="8.3" font-weight="normal" fill="#333" text-anchor="middle" stroke="#333" stroke-width="0.22">50</text>
<text x="157.0" y="392.6" font-family="'DejaVu Sans','Liberation Sans',sans-serif" font-size="10.5" font-weight="normal" fill="#000" text-anchor="middle" textLength="55.0" lengthAdjust="spacingAndGlyphs" stroke="#000" stroke-width="0.22">Biomodels</text>
<text x="160.6" y="543.8" font-family="'DejaVu Sans','Liberation Sans',sans-serif" font-size="8.8" font-weight="normal" fill="#333" text-anchor="middle" textLength="106.8" lengthAdjust="spacingAndGlyphs" stroke="#333" stroke-width="0.22">Pharmacoresistance (%)</text>
<text transform="translate(42.9,462.8) rotate(-90)" x="0" y="3.1" font-family="'DejaVu Sans','Liberation Sans',sans-serif" font-size="8.4" font-weight="normal" fill="#333" text-anchor="middle" textLength="50.0" lengthAdjust="spacingAndGlyphs" stroke="#333" stroke-width="0.22"># of models</text>
<line x1="314.5" y1="500.7" x2="488.2" y2="500.7" stroke="#000" stroke-width="0.8"  stroke-opacity="0.09"/>
<line x1="314.5" y1="481.9" x2="488.2" y2="481.9" stroke="#000" stroke-width="0.8"  stroke-opacity="0.09"/>
<line x1="314.5" y1="463.2" x2="488.2" y2="463.2" stroke="#000" stroke-width="0.8"  stroke-opacity="0.09"/>
<line x1="314.5" y1="444.4" x2="488.2" y2="444.4" stroke="#000" stroke-width="0.8"  stroke-opacity="0.09"/>
<line x1="314.5" y1="425.6" x2="488.2" y2="425.6" stroke="#000" stroke-width="0.8"  stroke-opacity="0.09"/>
<line x1="349.2" y1="407.0" x2="349.2" y2="519.5" stroke="#000" stroke-width="0.8"  stroke-opacity="0.09"/>
<line x1="384.0" y1="407.0" x2="384.0" y2="519.5" stroke="#000" stroke-width="0.8"  stroke-opacity="0.09"/>
<line x1="418.8" y1="407.0" x2="418.8" y2="519.5" stroke="#000" stroke-width="0.8"  stroke-opacity="0.09"/>
<line x1="453.5" y1="407.0" x2="453.5" y2="519.5" stroke="#000" stroke-width="0.8"  stroke-opacity="0.09"/>
<line x1="314.5" y1="406.5" x2="314.5" y2="519.9" stroke="#555" stroke-width="0.8" />
<line x1="314.1" y1="519.5" x2="488.6" y2="519.5" stroke="#555" stroke-width="0.8" />
<line x1="314.5" y1="500.7" x2="316.3" y2="500.7" stroke="#555" stroke-width="0.8" />
<text x="311.1" y="505.0" font-family="'DejaVu Sans','Liberation Sans',sans-serif" font-size="8.3" font-weight="normal" fill="#333" text-anchor="end" stroke="#333" stroke-width="0.22">50</text>
<line x1="314.5" y1="481.9" x2="316.3" y2="481.9" stroke="#555" stroke-width="0.8" />
<text x="311.1" y="486.2" font-family="'DejaVu Sans','Liberation Sans',sans-serif" font-size="8.3" font-weight="normal" fill="#333" text-anchor="end" stroke="#333" stroke-width="0.22">100</text>
<line x1="314.5" y1="463.2" x2="316.3" y2="463.2" stroke="#555" stroke-width="0.8" />
<text x="311.1" y="467.4" font-family="'DejaVu Sans','Liberation Sans',sans-serif" font-size="8.3" font-weight="normal" fill="#333" text-anchor="end" stroke="#333" stroke-width="0.22">150</text>
<line x1="314.5" y1="444.4" x2="316.3" y2="444.4" stroke="#555" stroke-width="0.8" />
<text x="311.1" y="448.6" font-family="'DejaVu Sans','Liberation Sans',sans-serif" font-size="8.3" font-weight="normal" fill="#333" text-anchor="end" stroke="#333" stroke-width="0.22">200</text>
<line x1="314.5" y1="425.6" x2="316.3" y2="425.6" stroke="#555" stroke-width="0.8" />
<text x="311.1" y="429.9" font-family="'DejaVu Sans','Liberation Sans',sans-serif" font-size="8.3" font-weight="normal" fill="#333" text-anchor="end" stroke="#333" stroke-width="0.22">250</text>
<line x1="314.5" y1="406.9" x2="316.3" y2="406.9" stroke="#555" stroke-width="0.8" />
<text x="311.1" y="411.1" font-family="'DejaVu Sans','Liberation Sans',sans-serif" font-size="8.3" font-weight="normal" fill="#333" text-anchor="end" stroke="#333" stroke-width="0.22">300</text>
<rect x="314.5" y="495.8" width="34.8" height="23.7" fill="#b1adad" stroke="#555" stroke-width="0.5"/>
<rect x="349.2" y="424.9" width="34.8" height="94.6" fill="#b1adad" stroke="#555" stroke-width="0.5"/>
<rect x="384.0" y="456.4" width="34.8" height="63.1" fill="#b1adad" stroke="#555" stroke-width="0.5"/>
<rect x="418.8" y="513.9" width="34.8" height="5.6" fill="#b1adad" stroke="#555" stroke-width="0.5"/>
<line x1="349.2" y1="519.8" x2="349.2" y2="517.9" stroke="#333" stroke-width="0.8" />
<line x1="384.0" y1="519.8" x2="384.0" y2="517.9" stroke="#333" stroke-width="0.8" />
<line x1="418.8" y1="519.8" x2="418.8" y2="517.9" stroke="#333" stroke-width="0.8" />
<line x1="453.5" y1="519.8" x2="453.5" y2="517.9" stroke="#333" stroke-width="0.8" />
<line x1="488.2" y1="519.8" x2="488.2" y2="517.9" stroke="#333" stroke-width="0.8" />
<text x="308.8" y="531.6" font-family="'DejaVu Sans','Liberation Sans',sans-serif" font-size="8.3" font-weight="normal" fill="#333" text-anchor="middle" stroke="#333" stroke-width="0.22">0</text>
<text x="350.6" y="531.6" font-family="'DejaVu Sans','Liberation Sans',sans-serif" font-size="8.3" font-weight="normal" fill="#333" text-anchor="middle" stroke="#333" stroke-width="0.22">10</text>
<text x="385.3" y="531.6" font-family="'DejaVu Sans','Liberation Sans',sans-serif" font-size="8.3" font-weight="normal" fill="#333" text-anchor="middle" stroke="#333" stroke-width="0.22">20</text>
<text x="419.8" y="531.6" font-family="'DejaVu Sans','Liberation Sans',sans-serif" font-size="8.3" font-weight="normal" fill="#333" text-anchor="middle" stroke="#333" stroke-width="0.22">30</text>
<text x="454.6" y="531.6" font-family="'DejaVu Sans','Liberation Sans',sans-serif" font-size="8.3" font-weight="normal" fill="#333" text-anchor="middle" stroke="#333" stroke-width="0.22">40</text>
<text x="488.9" y="531.6" font-family="'DejaVu Sans','Liberation Sans',sans-serif" font-size="8.3" font-weight="normal" fill="#333" text-anchor="middle" stroke="#333" stroke-width="0.22">50</text>
<text x="396.5" y="392.6" font-family="'DejaVu Sans','Liberation Sans',sans-serif" font-size="10.5" font-weight="normal" fill="#000" text-anchor="middle" textLength="84.2" lengthAdjust="spacingAndGlyphs" stroke="#000" stroke-width="0.22">Random Models</text>
<text x="401.0" y="543.8" font-family="'DejaVu Sans','Liberation Sans',sans-serif" font-size="8.8" font-weight="normal" fill="#333" text-anchor="middle" textLength="106.8" lengthAdjust="spacingAndGlyphs" stroke="#333" stroke-width="0.22">Pharmacoresistance (%)</text>
<text transform="translate(284.3,462.8) rotate(-90)" x="0" y="3.1" font-family="'DejaVu Sans','Liberation Sans',sans-serif" font-size="8.4" font-weight="normal" fill="#333" text-anchor="middle" textLength="50.0" lengthAdjust="spacingAndGlyphs" stroke="#333" stroke-width="0.22"># of models</text>
</svg>
</body></html>
